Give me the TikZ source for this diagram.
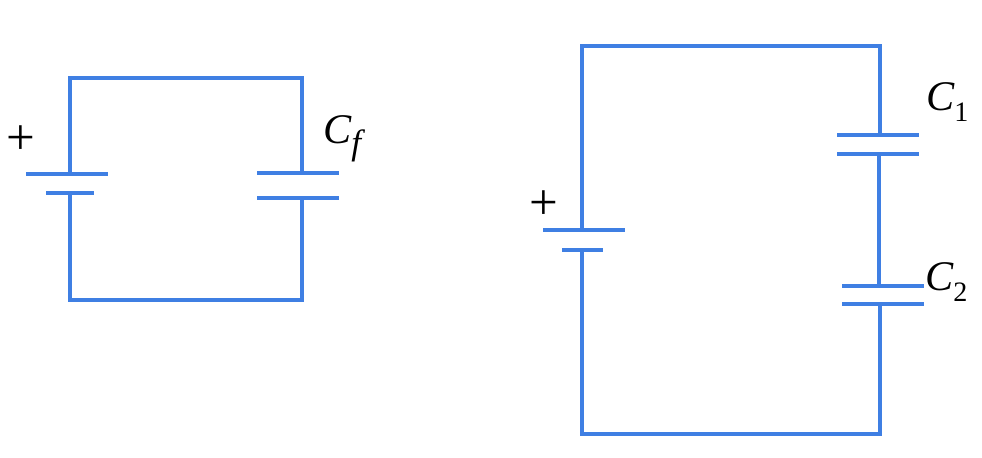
\documentclass[tikz,border=0pt]{standalone}
\usepackage{xcolor}
\usepackage{fontspec}
\setmainfont{Liberation Serif}
\definecolor{wire}{HTML}{3F7FE3}

\newcommand{\capname}[2][16]{{\itshape C}\raisebox{-6.5pt}{\fontsize{#1}{#1}\selectfont #2}}

\tikzset{
  plate/.style={fill=wire, inner sep=0pt, minimum height=0.08cm},
  wirepath/.style={draw=wire, line width=0.08cm, line join=miter},
  caplabel/.style={inner sep=0pt, anchor=base west, font=\fontsize{24}{24}\selectfont},
  pluslabel/.style={inner sep=0pt, font=\fontsize{29}{29}\selectfont}
}

\begin{document}
\begin{tikzpicture}[x=0.02cm, y=-0.02cm]
          \useasboundingbox (0,0) rectangle (982,457);

          % left circuit
          \coordinate (A) at (70,78);
          \coordinate (B) at (302,78);
          \coordinate (C) at (302,300);
          \coordinate (D) at (70,300);

          \node[plate, minimum width=1.64cm] (batLa) at (67,174) {};
          \node[plate, minimum width=0.96cm] (batLb) at (70,193) {};
          \node[plate, minimum width=1.64cm] (capFa) at (298,173) {};
          \node[plate, minimum width=1.64cm] (capFb) at (298,198) {};

          \draw[wirepath] (A |- batLa.center) -- (A) -- (B) -- (B |- capFa.center);
          \draw[wirepath] (A |- batLb.center) -- (D) -- (C) -- (C |- capFb.center);

          \node[pluslabel] (plusL) at (21,140) {+};
          \node[caplabel] (labF) at (323,143) {\capname[20]{\itshape f}};

          % right circuit
          \coordinate (E) at (582,46);
          \coordinate (F) at (880,46);
          \coordinate (G) at (880,434);
          \coordinate (H) at (582,434);
          \coordinate (M) at (879,200);

          \node[plate, minimum width=1.64cm] (batRa) at (584,230) {};
          \node[plate, minimum width=0.82cm] (batRb) at (582.5,250) {};
          \node[plate, minimum width=1.64cm] (capAa) at (877.5,135) {};
          \node[plate, minimum width=1.64cm] (capAb) at (877.5,154) {};
          \node[plate, minimum width=1.64cm] (capBa) at (882.5,286) {};
          \node[plate, minimum width=1.64cm] (capBb) at (882.5,304) {};

          \draw[wirepath] (E |- batRa.center) -- (E) -- (F) -- (F |- capAa.center);
          \draw[wirepath] (E |- batRb.center) -- (H) -- (G) -- (G |- capBb.center);
          \draw[wirepath] (M |- capAb.center) -- (M |- capBa.center);

          \node[pluslabel] (plusR) at (544,205) {+};
          \node[caplabel] (labA) at (926,110) {\capname{1}};
          \node[caplabel] (labB) at (925,290) {\capname{2}};

          \end{tikzpicture}
\end{document}
